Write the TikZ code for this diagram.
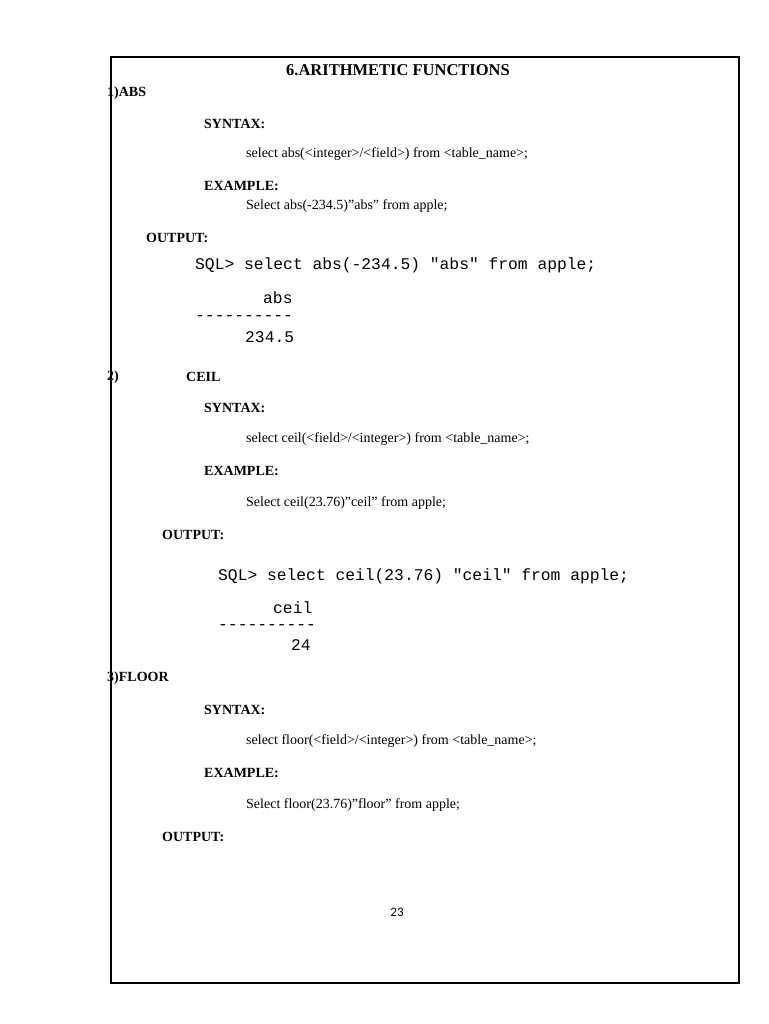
\documentclass[tikz,border=0pt]{standalone}
\usepackage{fontspec}
\setmainfont{Liberation Serif}
\newfontfamily\consol{Liberation Mono}
\newfontfamily\pgnum{Carlito}
\begin{document}
\begin{tikzpicture}[x=1pt,y=-1pt,
  txt/.style={anchor=west,inner sep=0pt,font=\fontsize{14}{16}\selectfont},
  lbl/.style={anchor=west,inner sep=0pt,font=\fontsize{14}{16}\selectfont\bfseries},
  con/.style={anchor=west,inner sep=0pt,font=\consol\fontsize{16.3}{18}\selectfont}]
\useasboundingbox (0,0) rectangle (768,1024);
\fill[white] (0,0) rectangle (768,1024);
\draw[line width=1.2pt] (111,57) rectangle (739,983);
\node[inner sep=0pt,font=\fontsize{16.5}{18}\selectfont\bfseries] (title) at (398,70) {6.ARITHMETIC FUNCTIONS};
\node[lbl] (h1) at (107,93) {1)ABS};
\node[lbl] (s1) at (204,124) {SYNTAX:};
\node[txt] (s1t) at (246,154) {select abs(<integer>/<field>) from <table\_name>;};
\node[lbl] (e1) at (204,186) {EXAMPLE:};
\node[txt] (e1t) at (246,206) {Select abs(-234.5)”abs” from apple;};
\node[lbl] (o1) at (146,238) {OUTPUT:};
\node[con] (q1) at (195,265) {SQL> select abs(-234.5) "abs" from apple;};
\node[con] (c1) at (263,298) {abs};
\node[con] (d1) at (195,318) {----------};
\node[con] (v1) at (245,337) {234.5};
\node[lbl] (h2) at (107,377) {2)};
\node[lbl] (h2b) at (186,377) {CEIL};
\node[lbl] (s2) at (204,408) {SYNTAX:};
\node[txt] (s2t) at (246,439) {select ceil(<field>/<integer>) from <table\_name>;};
\node[lbl] (e2) at (204,471) {EXAMPLE:};
\node[txt] (e2t) at (246,503) {Select ceil(23.76)”ceil” from apple;};
\node[lbl] (o2) at (162,535) {OUTPUT:};
\node[con] (q2) at (218,576) {SQL> select ceil(23.76) "ceil" from apple;};
\node[con] (c2) at (273,608) {ceil};
\node[con] (d2) at (218,627) {----------};
\node[con] (v2) at (291,645) {24};
\node[lbl] (h3) at (107,678) {3)FLOOR};
\node[lbl] (s3) at (204,710) {SYNTAX:};
\node[txt] (s3t) at (246,741) {select floor(<field>/<integer>) from <table\_name>;};
\node[lbl] (e3) at (204,773) {EXAMPLE:};
\node[txt] (e3t) at (246,805) {Select floor(23.76)”floor” from apple;};
\node[lbl] (o3) at (162,837) {OUTPUT:};
\node[inner sep=0pt,font=\pgnum\fontsize{13}{15}\selectfont] (pg) at (397,912) {23};
\end{tikzpicture}
\end{document}
